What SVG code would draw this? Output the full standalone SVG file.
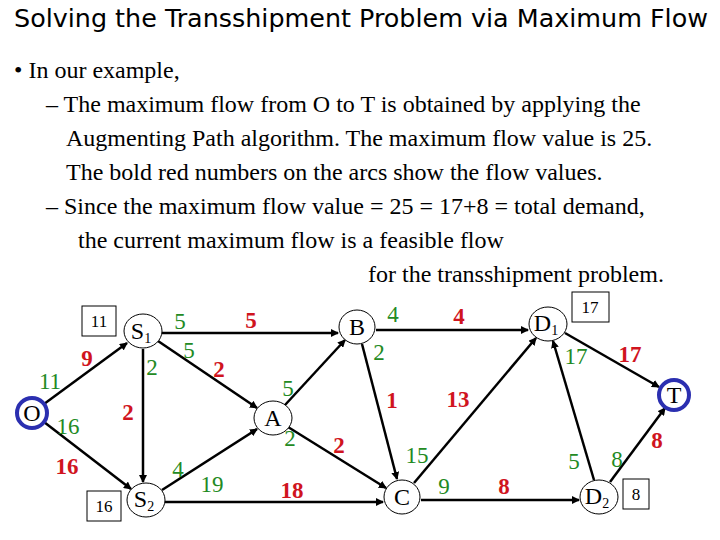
<svg xmlns="http://www.w3.org/2000/svg" width="720" height="540" viewBox="0 0 720 540">
<style>
.t{font-family:"Liberation Serif",serif;font-size:24px;fill:#000}
.h{font-family:"DejaVu Sans",sans-serif;font-size:25px;fill:#000}
.n{font-family:"Liberation Serif",serif;font-size:24px;fill:#000;text-anchor:middle}
.sub{font-size:14px}
.g{font-family:"Liberation Serif",serif;font-size:23px;fill:#238a23;text-anchor:middle}
.r{font-family:"Liberation Serif",serif;font-size:23px;font-weight:bold;fill:#d0141e;text-anchor:middle}
.b{font-family:"Liberation Serif",serif;font-size:17px;fill:#000;text-anchor:middle}
.node{fill:#fff;stroke:#000;stroke-width:1}
.box{fill:#fff;stroke:#000;stroke-width:1}
.e{stroke:#000;stroke-width:2.5;fill:none;marker-end:url(#a)}
</style>
<defs><marker id="a" markerWidth="8" markerHeight="8" refX="7" refY="4" orient="auto" markerUnits="userSpaceOnUse"><path d="M0,0 L8,4 L0,8 z" fill="#000"/></marker></defs>
<rect width="720" height="540" fill="#fff"/>
<text class="h" x="14" y="27" textLength="694" lengthAdjust="spacingAndGlyphs">Solving the Transshipment Problem via Maximum Flow</text>
<text class="t" x="14" y="78">•  In our example,</text>
<text class="t" x="46" y="112">– The maximum flow from O to T is obtained by applying the</text>
<text class="t" x="66" y="146">Augmenting Path algorithm. The maximum flow value is 25.</text>
<text class="t" x="66" y="180">The bold red numbers on the arcs show the flow values.</text>
<text class="t" x="46" y="214">– Since the maximum flow value = 25 = 17+8 = total demand,</text>
<text class="t" x="78" y="248">the current maximum flow is a feasible flow</text>
<text class="t" x="368" y="282">for the transshipment problem.</text>
<g id="connectors">
<line class="e" x1="44" y1="404" x2="127" y2="343"/>
<line class="e" x1="44" y1="422" x2="131" y2="489"/>
<line class="e" x1="162" y1="333" x2="338" y2="333"/>
<line class="e" x1="158" y1="341" x2="257" y2="408"/>
<line class="e" x1="143" y1="349" x2="143" y2="482"/>
<line class="e" x1="162" y1="490" x2="257" y2="429"/>
<line class="e" x1="165" y1="502" x2="383" y2="502"/>
<line class="e" x1="285" y1="405" x2="345" y2="340"/>
<line class="e" x1="288" y1="427" x2="386" y2="488"/>
<line class="e" x1="376" y1="330" x2="528" y2="330"/>
<line class="e" x1="362" y1="344" x2="397" y2="479"/>
<line class="e" x1="414" y1="483" x2="536" y2="338"/>
<line class="e" x1="421" y1="500" x2="579" y2="500"/>
<line class="e" x1="594" y1="480" x2="553" y2="341"/>
<line class="e" x1="565" y1="333" x2="659" y2="387"/>
<line class="e" x1="610" y1="482" x2="665" y2="408"/>
</g>
<g id="labels">
<text class="g" x="50" y="389">11</text><text class="r" x="87" y="366">9</text>
<text class="g" x="68" y="434">16</text><text class="r" x="67" y="474">16</text>
<text class="g" x="180" y="329">5</text><text class="r" x="251" y="328">5</text>
<text class="g" x="189" y="358">5</text><text class="r" x="219" y="377">2</text>
<text class="g" x="152" y="375">2</text><text class="r" x="128" y="420">2</text>
<text class="g" x="178" y="477">4</text><text class="g" x="212" y="492">19</text>
<text class="r" x="292" y="498">18</text>
<text class="g" x="288" y="396">5</text><text class="g" x="290" y="446">2</text>
<text class="r" x="339" y="453">2</text>
<text class="g" x="393" y="322">4</text><text class="r" x="459" y="324">4</text>
<text class="g" x="379" y="360">2</text><text class="r" x="392" y="408">1</text>
<text class="r" x="458" y="407">13</text><text class="g" x="417" y="463">15</text>
<text class="g" x="444" y="494">9</text><text class="r" x="504" y="494">8</text>
<text class="g" x="576" y="364">17</text><text class="r" x="630" y="362">17</text>
<text class="g" x="574" y="469">5</text><text class="g" x="617" y="467">8</text>
<text class="r" x="657" y="448">8</text>
</g>
<g id="box11"><rect class="box" x="82" y="306" width="34" height="30"/><text class="b" x="99" y="327">11</text></g>
<g id="box16"><rect class="box" x="87" y="491" width="34" height="30"/><text class="b" x="104" y="512">16</text></g>
<g id="box17"><rect class="box" x="572" y="292" width="37" height="30"/><text class="b" x="590" y="313">17</text></g>
<g id="box8"><rect class="box" x="623" y="479" width="26" height="30"/><text class="b" x="636" y="500">8</text></g>
<g id="O"><circle cx="32" cy="413" r="15" fill="#fff" stroke="#2b2fb0" stroke-width="4"/><text class="n" x="32" y="421">O</text></g>
<g id="T"><circle cx="674" cy="395" r="15" fill="#fff" stroke="#2b2fb0" stroke-width="4"/><text class="n" x="674" y="403">T</text></g>
<g id="S1"><ellipse class="node" cx="143" cy="331" rx="19" ry="17"/><text class="n" x="141" y="339">S<tspan class="sub" dy="4">1</tspan></text></g>
<g id="S2"><ellipse class="node" cx="146" cy="500" rx="19" ry="17"/><text class="n" x="144" y="507">S<tspan class="sub" dy="4">2</tspan></text></g>
<g id="A"><ellipse class="node" cx="273" cy="418" rx="19" ry="17"/><text class="n" x="273" y="426">A</text></g>
<g id="B"><ellipse class="node" cx="357" cy="327" rx="18" ry="17"/><text class="n" x="357" y="335">B</text></g>
<g id="C"><ellipse class="node" cx="402" cy="497" rx="18" ry="17"/><text class="n" x="402" y="505">C</text></g>
<g id="D1"><ellipse class="node" cx="548" cy="324" rx="19" ry="17"/><text class="n" x="546" y="331">D<tspan class="sub" dy="4">1</tspan></text></g>
<g id="D2"><ellipse class="node" cx="599" cy="497" rx="19" ry="17"/><text class="n" x="597" y="504">D<tspan class="sub" dy="4">2</tspan></text></g>
</svg>
